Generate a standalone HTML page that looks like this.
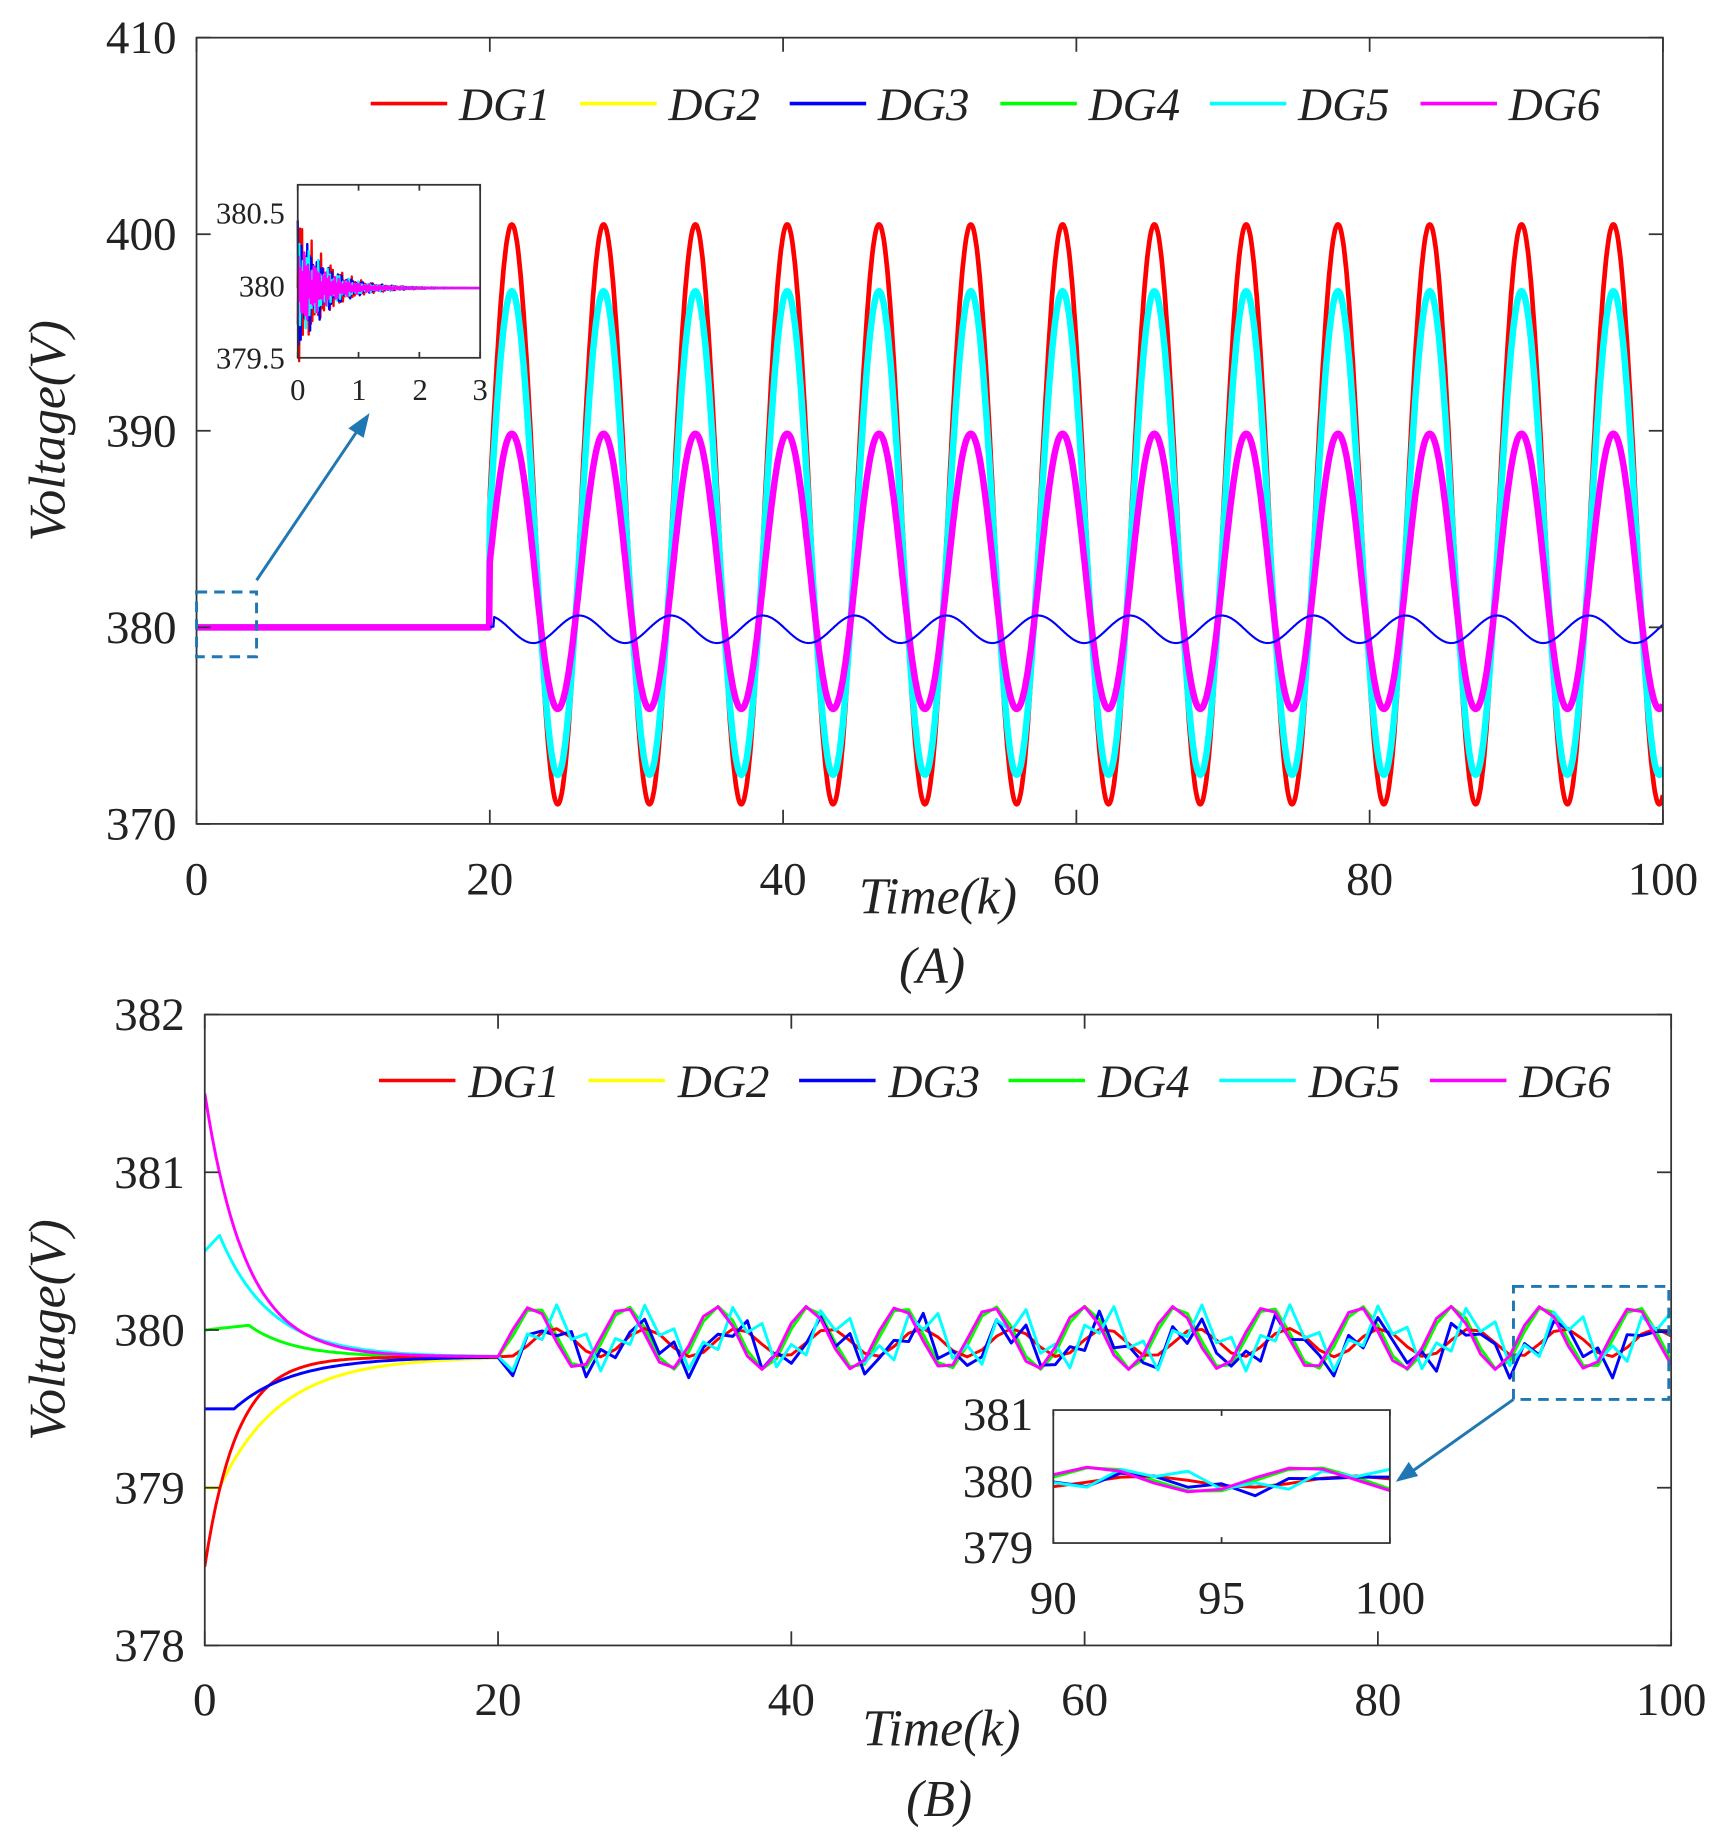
<!DOCTYPE html>
<html><head><meta charset="utf-8"><style>
html,body{margin:0;padding:0;background:#fff}
svg{display:block}
text{font-family:"Liberation Serif",serif;fill:#222}
.it{font-style:italic}
</style></head><body>
<svg id="s" width="1730" height="1842" viewBox="0 0 1470 1565" preserveAspectRatio="none" xmlns="http://www.w3.org/2000/svg"></svg>
<script>
(function(){
const S=document.getElementById('s');let h='';
function ax(x0,x1,y0,y1,xa,xb,ya,yb){return{X:k=>x0+(k-xa)/(xb-xa)*(x1-x0),Y:v=>y1-(v-ya)/(yb-ya)*(y1-y0)};}
function poly(pts,c,w,clip){h+=`<polyline ${clip?'clip-path="url(#'+clip+')"':''} points="${pts.map(p=>p[0].toFixed(1)+','+p[1].toFixed(1)).join(' ')}" fill="none" stroke="${c}" stroke-width="${w}" stroke-linejoin="round"/>`;}
function frame(x0,x1,y0,y1,xt,yt,A,fs,xly,yLx,tick){
 h+=`<rect x="${x0}" y="${y0}" width="${x1-x0}" height="${y1-y0}" fill="none" stroke="#333" stroke-width="1.5"/>`;
 xt.forEach(t=>{const x=A.X(t);h+=`<line x1="${x}" x2="${x}" y1="${y1}" y2="${y1-tick}" stroke="#333" stroke-width="1.5"/><line x1="${x}" x2="${x}" y1="${y0}" y2="${y0+tick}" stroke="#333" stroke-width="1.5"/>`;if(xly)h+=`<text x="${x}" y="${xly}" font-size="${fs}" text-anchor="middle">${t}</text>`;});
 yt.forEach(t=>{const y=A.Y(t);h+=`<line x1="${x0}" x2="${x0+tick}" y1="${y}" y2="${y}" stroke="#333" stroke-width="1.5"/><line x1="${x1}" x2="${x1-tick}" y1="${y}" y2="${y}" stroke="#333" stroke-width="1.5"/><text x="${yLx}" y="${y+fs*0.33}" font-size="${fs}" text-anchor="end">${t}</text>`;});
}
h+=`<defs><clipPath id="c1"><rect x="167" y="32" width="1246" height="668"/></clipPath><clipPath id="c2"><rect x="174" y="862" width="1246" height="536"/></clipPath><clipPath id="c3"><rect x="895" y="1198" width="286" height="113"/></clipPath></defs>`;
const A=ax(167,1413,32,700,0,100,370,410);
const T=6.26;
function topf(c,a,k){if(k<20)return 380;return c+a*Math.cos(2*Math.PI*(k-21.5)/T);}
function series(f,a0,a1,st){const p=[];for(let k=a0;k<=a1+1e-9;k+=st)p.push([A.X(k),A.Y(f(k))]);return p;}
poly([[A.X(0),A.Y(380)],[A.X(20),A.Y(380)],[A.X(20),A.Y(384)]],'#ffff00',3,'c1');
poly(series(k=>k<20?380:topf(385.75,14.75,k),0,100,0.05),'#ff0000',4,'c1');
poly(series(k=>k<20?380:topf(384.8,12.3,k),0,100,0.05),'#00ffff',5.5,'c1');
poly(series(k=>k<20?380:topf(382.85,7.0,k),0,100,0.05),'#ff00ff',5.5,'c1');
poly(series(k=>k<20?380:379.9+0.7*Math.cos(2*Math.PI*(k-26.1)/T)*(k<20.3?0.2:1),20,100,0.05),'#0000ff',1.8,'c1');
poly([[A.X(0),A.Y(380)],[A.X(20),A.Y(380)]],'#ff00ff',2.5,'c1');
frame(167,1413,32,700,[0,20,40,60,80,100],[370,380,390,400,410],A,40,760,150,12);
const I=ax(253,408,157,304,0,3,379.5,380.74);
h+=`<rect x="253" y="157" width="155" height="147" fill="#fff"/>`;
const cols=['#ff0000','#0000ff','#00ffff','#ff00ff'];
cols.forEach((c,i)=>{const p=[];for(let k=0;k<=3;k+=0.012){const d=Math.exp(-k*2.2);const v=380+(0.45-i*0.06)*d*Math.sin(k*200+i*1.7)*(1+0.3*Math.sin(k*37+i));p.push([I.X(k),I.Y(v)]);}poly(p,c,2,null);});
frame(253,408,157,304,[0,1,2,3],[],I,0,0,0,5);
[[0,253],[1,305],[2,357],[3,408]].forEach(a=>h+=`<text x="${a[1]}" y="340" font-size="26" text-anchor="middle">${a[0]}</text>`);
[[380.5,190],[380,252],[379.5,313]].forEach(a=>h+=`<text x="242" y="${a[1]}" font-size="26" text-anchor="end">${a[0]}</text>`);
h+=`<rect x="167" y="503" width="51" height="55" fill="none" stroke="#1f77b4" stroke-width="2.5" stroke-dasharray="9,6"/>`;
h+=`<line x1="218" y1="493" x2="305" y2="364" stroke="#1f77b4" stroke-width="2.5"/><polygon points="314,351 296,364 309,372" fill="#1f77b4"/>`;
function legend(y,items){items.forEach(([lx,tx,c,n])=>{h+=`<line x1="${lx}" x2="${lx+65}" y1="${y}" y2="${y}" stroke="${c}" stroke-width="3"/><text class="it" x="${tx}" y="${y+14}" font-size="40">${n}</text>`;});}
legend(88,[[315,390,'#ff0000','DG1'],[493,568,'#ffff00','DG2'],[671,746,'#0000ff','DG3'],[850,925,'#00ff00','DG4'],[1028,1103,'#00ffff','DG5'],[1207,1282,'#ff00ff','DG6']]);
h+=`<text class="it" x="797" y="776" font-size="44" text-anchor="middle">Time(k)</text><text class="it" x="792" y="835" font-size="44" text-anchor="middle">(A)</text>`;
h+=`<text class="it" x="0" y="0" font-size="44" text-anchor="middle" transform="translate(55,366) rotate(-90)">Voltage(V)</text>`;
const B=ax(174,1420,862,1398,0,100,378,382);
const F=379.83;
function tr(v0,k,tau){return F+(v0-F)*Math.exp(-k/tau);}
const bf={
 y:k=>k<=20?(k<1?379:tr(379,k-1,4.2)):379.95+0.2*Math.cos(2*Math.PI*(k-22.5)/T),
 g:k=>k<=20?(k<3?380+0.01*k:tr(380.03,k-3,3)):379.95+0.2*Math.cos(2*Math.PI*(k-22.5)/T),
 r:k=>k<=20?tr(378.5,k,2.2):379.92+0.09*Math.cos(2*Math.PI*(k-23.8)/T),
 b:k=>k<=20?(k<2?379.5:tr(379.5,k-2,4)):379.9+0.12*Math.cos(2*Math.PI*(k-23.5)/T)+0.1*Math.sin(k*2.6),
 c:k=>k<=20?(k<1?380.5+0.1*k:tr(380.6,k-1,3.5)):379.95+0.13*Math.cos(2*Math.PI*(k-24)/T)+0.08*Math.cos(k*3.14159),
 m:k=>k<=20?tr(381.5,k,2.8):379.95+0.2*Math.cos(2*Math.PI*(k-22.3)/T)
};
function bs(f,X,Y,a0,a1,fine){const p=[];for(let k=a0;k<=a1;k++){if(fine&&k<20){for(let j=0;j<4;j++){const kk=k+j*0.25;p.push([X(kk),Y(f(kk))]);}}else p.push([X(k),Y(f(k))]);}return p;}
const lst=[['y','#ffff00'],['g','#00ff00'],['r','#ff0000'],['b','#0000ff'],['c','#00ffff'],['m','#ff00ff']];
lst.forEach(([n,c])=>poly(bs(bf[n],B.X,B.Y,0,100,true),c,2.5,'c2'));
frame(174,1420,862,1398,[0,20,40,60,80,100],[378,379,380,381,382],B,40,1457,157,12);
legend(918,[[322,398,'#ff0000','DG1'],[500,576,'#ffff00','DG2'],[679,755,'#0000ff','DG3'],[857,933,'#00ff00','DG4'],[1036,1112,'#00ffff','DG5'],[1215,1291,'#ff00ff','DG6']]);
h+=`<text class="it" x="800" y="1483" font-size="44" text-anchor="middle">Time(k)</text><text class="it" x="798" y="1543" font-size="44" text-anchor="middle">(B)</text>`;
h+=`<text class="it" x="0" y="0" font-size="44" text-anchor="middle" transform="translate(55,1130) rotate(-90)">Voltage(V)</text>`;
const J=ax(895,1181,1198,1311,90,100,378.95,381.05);
h+=`<rect x="895" y="1198" width="286" height="113" fill="#fff"/>`;
lst.forEach(([n,c])=>poly(bs(bf[n],J.X,J.Y,90,100,false),c,2.5,'c3'));
frame(895,1181,1198,1311,[90,95,100],[],J,0,0,0,5);
[[381,1215],[380,1272],[379,1328]].forEach(a=>h+=`<text x="878" y="${a[1]}" font-size="40" text-anchor="end">${a[0]}</text>`);
[[90,895],[95,1038],[100,1181]].forEach(a=>h+=`<text x="${a[1]}" y="1371" font-size="40" text-anchor="middle">${a[0]}</text>`);
h+=`<rect x="1286" y="1093" width="132" height="96" fill="none" stroke="#1f77b4" stroke-width="2.5" stroke-dasharray="9,6"/>`;
h+=`<line x1="1286" y1="1189" x2="1200" y2="1250" stroke="#1f77b4" stroke-width="2.5"/><polygon points="1186,1259 1197,1242 1205,1254" fill="#1f77b4"/>`;
S.innerHTML=h;
})();
</script>
</body></html>
